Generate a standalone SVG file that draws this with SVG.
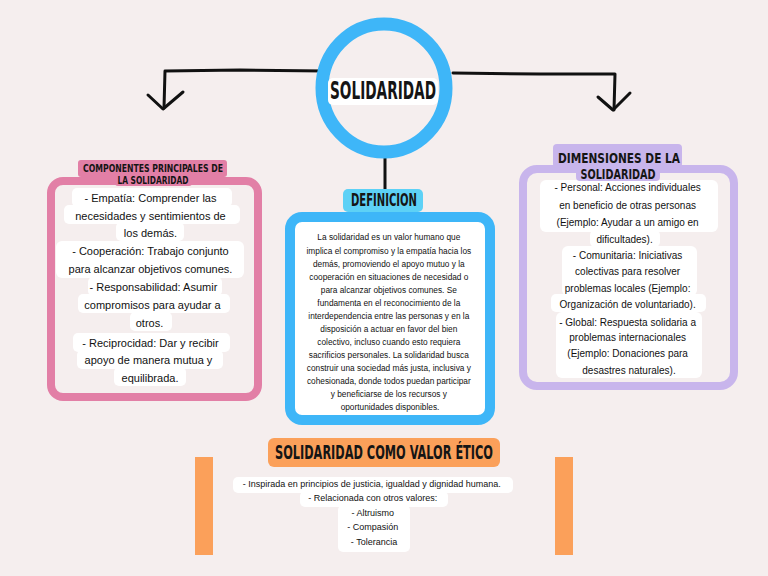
<svg xmlns="http://www.w3.org/2000/svg" width="768" height="576" viewBox="0 0 768 576">
<defs>
<style>
.bg{fill:#f5eeee}
.conn{fill:none;stroke:#111;stroke-width:3;stroke-linecap:round;stroke-linejoin:round}
.ttl{font-family:"Liberation Sans Narrow","DejaVu Sans Condensed","Liberation Sans",sans-serif;font-weight:bold;fill:#151515;text-anchor:middle}
.body{font-family:"Liberation Sans","DejaVu Sans",sans-serif;fill:#111;text-anchor:middle}
.hl{fill:#ffffff}
</style>
</defs>
<rect class="bg" x="0" y="0" width="768" height="576"/>

<g id="connectors">
<path class="conn" d="M325 71 L240 70 L165 71 L164 108"/>
<path class="conn" d="M148 95 L163 109 L183 92"/>
<path class="conn" d="M453 73 L540 74 L615 74 L614 110"/>
<path class="conn" d="M598 97 L613 110 L630 93"/>
<path class="conn" d="M385 150 L385 190" stroke-width="2.5"/>
<path class="conn" d="M385 221 L385 229" stroke-width="2.5"/>
</g>

<g id="node-solidaridad">
<ellipse cx="384" cy="88" rx="62" ry="64" fill="none" stroke="#3eb6f8" stroke-width="13"/>
<rect class="hl" x="328" y="78" width="110" height="27" rx="5"/>
<text class="ttl" x="383" y="99" font-size="25" textLength="106" lengthAdjust="spacingAndGlyphs">SOLIDARIDAD</text>
</g>

<g id="node-componentes">
<rect x="51" y="181" width="207" height="216" rx="12" fill="none" stroke="#e27fa6" stroke-width="8"/>
<rect x="78" y="160" width="149" height="17" rx="3" fill="#e27fa6"/>
<rect x="115" y="170" width="77" height="16" rx="3" fill="#e27fa6"/>
<text class="ttl" x="153" y="172" font-size="10" textLength="140" lengthAdjust="spacingAndGlyphs">COMPONENTES PRINCIPALES DE</text>
<text class="ttl" x="153" y="184" font-size="10" textLength="71" lengthAdjust="spacingAndGlyphs">LA SOLIDARIDAD</text>
<rect class="hl" x="72" y="188" width="160" height="19" rx="5"/>
<rect class="hl" x="64" y="205" width="176" height="19" rx="5"/>
<rect class="hl" x="116" y="222" width="68" height="19" rx="5"/>
<rect class="hl" x="56" y="241" width="188" height="37" rx="6"/>
<rect class="hl" x="88" y="277" width="134" height="19" rx="5"/>
<rect class="hl" x="78" y="294" width="152" height="19" rx="5"/>
<rect class="hl" x="130" y="312" width="42" height="19" rx="5"/>
<rect class="hl" x="73" y="333" width="157" height="19" rx="5"/>
<rect class="hl" x="77" y="350" width="146" height="19" rx="5"/>
<rect class="hl" x="114" y="367" width="72" height="19" rx="5"/>
<text class="body" font-size="11" x="152">
<tspan x="152" y="202">- Empatía: Comprender las</tspan>
<tspan x="152" y="220">necesidades y sentimientos de</tspan>
<tspan x="152" y="237">los demás.</tspan>
<tspan x="152" y="255">- Cooperación: Trabajo conjunto</tspan>
<tspan x="152" y="273">para alcanzar objetivos comunes.</tspan>
<tspan x="155" y="291">- Responsabilidad: Asumir</tspan>
<tspan x="154" y="309">compromisos para ayudar a</tspan>
<tspan x="151" y="327">otros.</tspan>
<tspan x="152" y="347">- Reciprocidad: Dar y recibir</tspan>
<tspan x="150" y="364">apoyo de manera mutua y</tspan>
<tspan x="150" y="382">equilibrada.</tspan>
</text>
</g>

<g id="node-definicion">
<rect x="290" y="217" width="200" height="203" rx="12" fill="#ffffff" stroke="#3eb6f8" stroke-width="10"/>
<rect x="343" y="189" width="80" height="23" rx="5" fill="#5dd1f6"/>
<text class="ttl" x="384" y="206" font-size="17" textLength="66" lengthAdjust="spacingAndGlyphs">DEFINICION</text>
<text class="body" font-size="8.3">
<tspan x="390" y="240">La solidaridad es un valor humano que</tspan>
<tspan x="390" y="253.5">implica el compromiso y la empatía hacia los</tspan>
<tspan x="390" y="266.5">demás, promoviendo el apoyo mutuo y la</tspan>
<tspan x="390" y="280">cooperación en situaciones de necesidad o</tspan>
<tspan x="390" y="292.5">para alcanzar objetivos comunes. Se</tspan>
<tspan x="390" y="306">fundamenta en el reconocimiento de la</tspan>
<tspan x="390" y="319">interdependencia entre las personas y en la</tspan>
<tspan x="390" y="331.5">disposición a actuar en favor del bien</tspan>
<tspan x="390" y="345">colectivo, incluso cuando esto requiera</tspan>
<tspan x="390" y="357.5">sacrificios personales. La solidaridad busca</tspan>
<tspan x="390" y="370.5">construir una sociedad más justa, inclusiva y</tspan>
<tspan x="390" y="383.5">cohesionada, donde todos puedan participar</tspan>
<tspan x="390" y="396.5">y beneficiarse de los recursos y</tspan>
<tspan x="390" y="409.5">oportunidades disponibles.</tspan>
</text>
</g>

<g id="node-dimensiones">
<rect x="523" y="169" width="211" height="217" rx="14" fill="none" stroke="#c8b5ec" stroke-width="8"/>
<rect x="540" y="180" width="178" height="52" rx="6" class="hl"/>
<rect x="590" y="230" width="70" height="17" rx="5" class="hl"/>
<rect x="562" y="246" width="135" height="50" rx="6" class="hl"/>
<rect x="551" y="294" width="155" height="18" rx="5" class="hl"/>
<rect x="556" y="312" width="146" height="66" rx="6" class="hl"/>
<rect x="553" y="144" width="129" height="24" rx="4" fill="#c8b5ec"/>
<rect x="576" y="162" width="84" height="19" rx="4" fill="#c8b5ec"/>
<text class="ttl" x="619" y="162.5" font-size="13.5" textLength="122" lengthAdjust="spacingAndGlyphs">DIMENSIONES DE LA</text>
<text class="ttl" x="618" y="178.5" font-size="13.5" textLength="75" lengthAdjust="spacingAndGlyphs">SOLIDARIDAD</text>
<text class="body" font-size="10">
<tspan x="629" y="190.5">- Personal: Acciones individuales</tspan>
<tspan x="629" y="208.5">en beneficio de otras personas</tspan>
<tspan x="629" y="225.5">(Ejemplo: Ayudar a un amigo en</tspan>
<tspan x="626" y="242.5">dificultades).</tspan>
<tspan x="629" y="258.5">- Comunitaria: Iniciativas</tspan>
<tspan x="629" y="274.5">colectivas para resolver</tspan>
<tspan x="629" y="291.5">problemas locales (Ejemplo:</tspan>
<tspan x="629" y="307.5">Organización de voluntariado).</tspan>
<tspan x="629" y="325.5">- Global: Respuesta solidaria a</tspan>
<tspan x="629" y="340.5">problemas internacionales</tspan>
<tspan x="629" y="356.5">(Ejemplo: Donaciones para</tspan>
<tspan x="629" y="373.5">desastres naturales).</tspan>
</text>
</g>

<g id="node-valor-etico">
<rect x="195" y="457" width="18" height="98" fill="#fba05a"/>
<rect x="555" y="457" width="18" height="98" fill="#fba05a"/>
<rect x="268" y="438" width="232" height="29" rx="6" fill="#fba05a"/>
<text class="ttl" x="384" y="459" font-size="19" textLength="218" lengthAdjust="spacingAndGlyphs">SOLIDARIDAD COMO VALOR ÉTICO</text>
<rect class="hl" x="233" y="477" width="280" height="16" rx="5"/>
<rect class="hl" x="300" y="491" width="148" height="16" rx="5"/>
<rect class="hl" x="338" y="505" width="72" height="47" rx="5"/>
<text class="body" font-size="9">
<tspan x="373" y="487">- Inspirada en principios de justicia, igualdad y dignidad humana.</tspan>
<tspan x="374" y="501">- Relacionada con otros valores:</tspan>
<tspan x="374" y="516">- Altruismo</tspan>
<tspan x="374" y="530">- Compasión</tspan>
<tspan x="374" y="545">- Tolerancia</tspan>
</text>
</g>
</svg>
